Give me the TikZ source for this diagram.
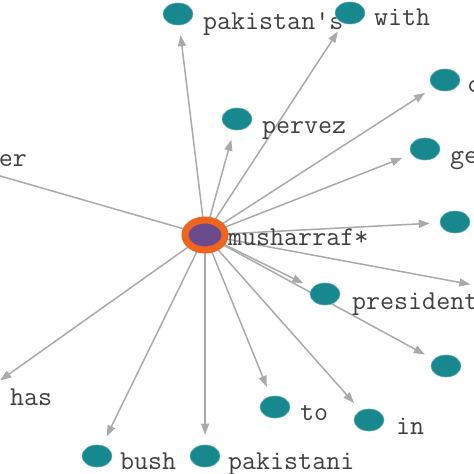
\documentclass[tikz,border=0pt]{standalone}
\usetikzlibrary{arrows.meta,shapes.geometric}
\definecolor{tealnode}{HTML}{17898E}
\definecolor{purpnode}{HTML}{6A4C8C}
\definecolor{orangering}{HTML}{F0641E}
\definecolor{edgegray}{HTML}{AAAAAA}
\definecolor{txt}{HTML}{404040}
\pgfdeclarelayer{bg}
\pgfdeclarelayer{lab}
\pgfsetlayers{bg,lab,main}
\tikzset{
  wnode/.style={ellipse, fill=tealnode, draw=tealnode!70!white, line width=0.6pt, minimum width=30pt, minimum height=22pt, inner sep=0pt},
  hub/.style={ellipse, fill=purpnode, draw=orangering, line width=7pt, minimum width=40pt, minimum height=30pt, inner sep=0pt},
  lbl/.style={anchor=base west, inner sep=0pt, text=txt, font=\ttfamily\fontsize{27.2pt}{30pt}\selectfont},
  edge/.style={draw=edgegray, line width=1.5pt, -{Triangle[length=11pt,width=8pt]}, shorten >=10pt},
  plain/.style={draw=edgegray, line width=1.5pt}
}
\begin{document}
\begin{tikzpicture}[x=1pt,y=-1pt]
\useasboundingbox (0,0) rectangle (474,474);
\node[hub] (c) at (205,235) {};
\node[wnode] (top) at (178,14) {};
\node[wnode] (with) at (350,13) {};
\node[wnode] (cn) at (445,80) {};
\node[wnode] (pervez) at (237,119) {};
\node[wnode] (ge) at (425,149) {};
\node[wnode] (rn) at (455,222) {};
\node[wnode] (offr) at (495,289) {};
\node[wnode] (president) at (325,294) {};
\node[wnode] (lr) at (446,366) {};
\node[wnode] (to) at (275,407) {};
\node[wnode] (in) at (369,420) {};
\node[wnode] (bush) at (97,456) {};
\node[wnode] (pakistani) at (205,456) {};
\node[wnode] (has) at (-19,394) {};
\node[wnode] (er) at (-83,152) {};
\begin{pgfonlayer}{bg}
\fill[white] (0,0) rectangle (474,474);
\draw[plain] (c.center) -- (er);
\foreach \n in {top,with,cn,pervez,ge,rn,offr,president,lr,to,in,bush,pakistani,has}
  \draw[edge] (c.center) -- (\n);
\end{pgfonlayer}
\begin{pgfonlayer}{lab}
\node[lbl] (lc) at ([shift={(23,10)}]c.center) {musharraf*};
\node[lbl] (ltop) at ([shift={(25,15)}]top.center) {pakistan's};
\node[lbl] (lwith) at ([shift={(24,12)}]with.center) {with};
\node[lbl] (lcn) at ([shift={(22,12)}]cn.center) {c};
\node[lbl] (lpervez) at ([shift={(25,14)}]pervez.center) {pervez};
\node[lbl] (lge) at ([shift={(25,14)}]ge.center) {ge};
\node[lbl] (lpres) at ([shift={(27,15)}]president.center) {president};
\node[lbl] (lto) at ([shift={(25,13)}]to.center) {to};
\node[lbl] (lin) at ([shift={(27,14)}]in.center) {in};
\node[lbl] (lbush) at ([shift={(23,13)}]bush.center) {bush};
\node[lbl] (lpak) at ([shift={(23,13)}]pakistani.center) {pakistani};
\node[lbl] (lhas) at ([shift={(29,11)}]has.center) {has};
\node[lbl, anchor=base east] (ler) at (27,166) {er};
\end{pgfonlayer}
\end{tikzpicture}
\end{document}
